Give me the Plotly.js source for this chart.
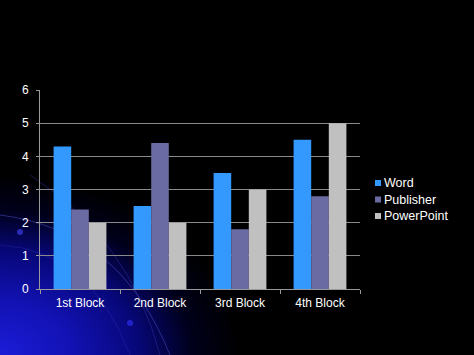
<!DOCTYPE html>
<html>
<head>
<meta charset="utf-8">
<script src="https://cdn.plot.ly/plotly-3.0.1.min.js"></script>
<style>
html,body{margin:0;padding:0;width:474px;height:355px;overflow:hidden;background:#000;}
#bg{position:absolute;left:0;top:0;width:474px;height:355px;
background:
radial-gradient(ellipse 240px 180px at 0% 100%, #1c1cd8 0%, #1212b4 30%, #070778 58%, rgba(0,0,45,0.6) 80%, rgba(0,0,0,0) 100%),
#000;}
#arcs{position:absolute;left:0;top:0;}
#chart{position:absolute;left:0;top:0;width:474px;height:355px;}
</style>
</head>
<body>
<div id="bg"></div>
<svg id="arcs" width="474" height="355">
  <path d="M0,215 Q120,230 170,355" stroke="rgba(90,90,220,0.45)" stroke-width="1" fill="none"/>
  <path d="M30,175 Q130,240 160,355" stroke="rgba(70,70,200,0.35)" stroke-width="1" fill="none"/>
  <path d="M0,245 Q90,250 130,355" stroke="rgba(60,60,200,0.3)" stroke-width="1" fill="none"/>
  <circle cx="20" cy="232" r="3" fill="rgba(60,60,230,0.7)"/>
  <circle cx="130" cy="323" r="3" fill="rgba(40,40,220,0.8)"/>
</svg>
<div id="chart"></div>
<script>
var categories = ["1st Block", "2nd Block", "3rd Block", "4th Block"];
var seriesNames = ["Word", "Publisher", "PowerPoint"];
var wordValues = [4.3, 2.5, 3.5, 4.5];
var publisherValues = [2.4, 4.4, 1.8, 2.8];
var powerpointValues = [2, 2, 3, 5];
var yTicks = [0, 1, 2, 3, 4, 5, 6];
var colors = ["#3399ff", "#6b6ba3", "#c0c0c0"];

var allValues = [wordValues, publisherValues, powerpointValues];
var traces = allValues.map(function(v, i){
  return {type: "bar", x: categories, y: v, name: seriesNames[i],
    marker: {color: colors[i], line: {width: 0}}, showlegend: false, hoverinfo: "none"};
});

var shapes = [], annotations = [];
var legTop = 183, legStep = 16.5;
seriesNames.forEach(function(n, i){
  var yc = legTop + i * legStep;
  shapes.push({type: "rect", xref: "paper", yref: "paper",
    x0: (375 - 40) / 320, x1: (381 - 40) / 320,
    y0: (289 - (yc + 3)) / 199, y1: (289 - (yc - 3)) / 199,
    fillcolor: colors[i], line: {width: 0}});
  annotations.push({xref: "paper", yref: "paper", x: (382 - 40) / 320, y: (289 - yc) / 199,
    xanchor: "left", yanchor: "middle", text: n, showarrow: false,
    font: {family: "Liberation Sans, Arial, sans-serif", size: 12.5, color: "#ffffff"}});
});

var layout = {
  width: 474, height: 355,
  margin: {l: 40, r: 114, t: 90, b: 66},
  paper_bgcolor: "rgba(0,0,0,0)", plot_bgcolor: "rgba(0,0,0,0)",
  barmode: "group", bargap: 0.34, bargroupgap: 0,
  showlegend: false,
  font: {family: "Liberation Sans, Arial, sans-serif", size: 12, color: "#ffffff"},
  xaxis: {type: "category", tickson: "boundaries", ticks: "outside", ticklen: 4,
    tickcolor: "#9a9a9a", showline: true, linecolor: "#9a9a9a", linewidth: 1,
    showgrid: false, zeroline: false, ticklabelstandoff: 3,
    tickfont: {size: 12, color: "#ffffff"}},
  yaxis: {range: [0, 6], tickvals: yTicks, ticks: "outside", ticklen: 3,
    tickcolor: "#9a9a9a", showline: true, linecolor: "#9a9a9a", linewidth: 1,
    showgrid: true, gridcolor: "#8a8a8a", gridwidth: 1, zeroline: false,
    ticklabelstandoff: 5,
    tickfont: {size: 12, color: "#ffffff"}},
  shapes: shapes, annotations: annotations
};
Plotly.newPlot("chart", traces, layout, {staticPlot: true, displayModeBar: false});
</script>
</body>
</html>
